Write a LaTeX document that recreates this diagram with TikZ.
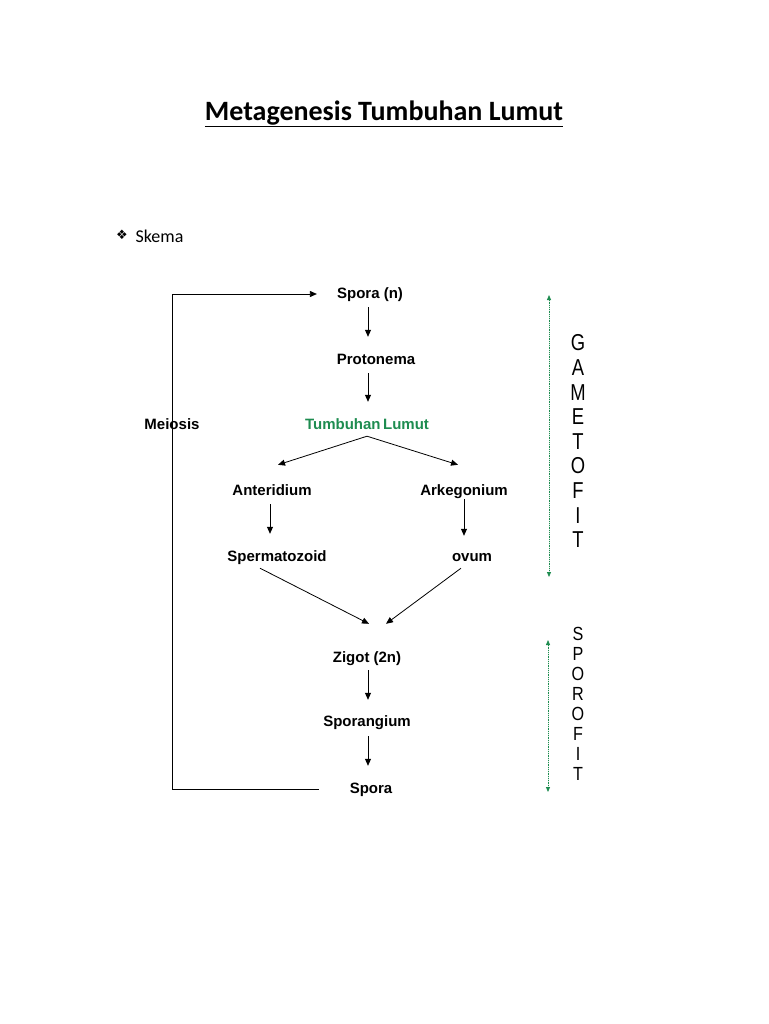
\documentclass[tikz,border=0pt]{standalone}
\usepackage{fontspec}
\setmainfont{Liberation Sans}
\newfontfamily\calfnt{Carlito}
\newfontfamily\djv{DejaVu Sans}
\usetikzlibrary{arrows.meta}
\definecolor{lgreen}{RGB}{30,140,80}
\begin{document}
\begin{tikzpicture}[x=1pt,y=-1pt,
  lbl/.style={font=\fontsize{15}{17}\selectfont\bfseries,inner sep=1pt,text height=11pt,text depth=3pt},
  arr/.style={-{Triangle[length=7pt,width=6pt]},line width=0.8pt},
  varr/.style={arr,shorten <=5pt,shorten >=15pt},
  gdot/.style={{Triangle[length=5pt,width=4pt]}-{Triangle[length=5pt,width=4pt]},densely dotted,line width=0.8pt,draw=lgreen,fill=lgreen}]
\useasboundingbox (0,0) rectangle (768,1024);
\node[font=\calfnt\fontsize{28}{30}\selectfont\bfseries] (title) at (384,114) {\underline{Metagenesis Tumbuhan Lumut}};
\node[font=\djv\fontsize{13}{14}\selectfont] (dia) at (122,235) {❖};
\node[font=\calfnt\fontsize{18}{20}\selectfont,anchor=west] (sk) at (132,236) {Skema};
\node[lbl] (s1) at (370,294) {Spora (n)};
\node[lbl] (pr) at (376,360) {Protonema};
\node[lbl,text=lgreen] (tl) at (367,425) {Tumbuhan\,Lumut};
\node[lbl] (an) at (272,491) {Anteridium};
\node[lbl] (ar) at (464,491) {Arkegonium};
\node[lbl] (sp) at (277,557) {Spermatozoid};
\node[lbl] (ov) at (472,557) {ovum};
\node[lbl] (zg) at (367,658) {Zigot (2n)};
\node[lbl] (sg) at (367,722) {Sporangium};
\node[lbl] (s2) at (371,789) {Spora};
\node[lbl] (me) at (172,425) {Meiosis};
\coordinate (c2) at (172,789);
\coordinate (c3) at (172,294);
\coordinate (g1) at (549,295);
\coordinate (g2) at (549,577);
\coordinate (h1) at (548,640);
\coordinate (h2) at (548,792);
\draw[arr,shorten <=30pt,shorten >=19pt] (s2.west) -- (c2) -- (c3) -- (s1.west);
\draw[varr] (s1.south -| 368,0) -- (pr.north -| 368,0);
\draw[varr] (pr.south -| 368,0) -- (tl.north -| 368,0);
\draw[arr] ([yshift=-3pt]tl.south) -- ([xshift=6pt,yshift=18pt]an.north);
\draw[arr] ([yshift=-3pt]tl.south) -- ([xshift=-6pt,yshift=18pt]ar.north);
\draw[varr] (an.south -| 270,0) -- (sp.north -| 270,0);
\draw[arr,shorten >=13pt] (ar.south -| 464,0) -- (ov.north -| 464,0);
\draw[arr] ([xshift=-17pt,yshift=-3pt]sp.south) -- ([xshift=2pt,yshift=26pt]zg.north);
\draw[arr] ([xshift=-11pt,yshift=-3pt]ov.south) -- ([xshift=19pt,yshift=26pt]zg.north);
\draw[varr,shorten <=4pt,shorten >=14pt] (zg.south -| 368,0) -- (sg.north -| 368,0);
\draw[varr,shorten <=6pt,shorten >=15pt] (sg.south -| 368,0) -- (s2.north -| 368,0);
\draw[gdot] (g1) -- (g2);
\draw[gdot] (h1) -- (h2);
\foreach \l [count=\i] in {G,A,M,E,T,O,F,I,T}
  \node[font=\fontsize{23}{24}\selectfont,xscale=0.8] (ga\i) at (578,343+\i*24.6-24.6) {\l};
\foreach \l [count=\i] in {S,P,O,R,O,F,I,T}
  \node[font=\fontsize{19}{20}\selectfont,xscale=0.85] (sp\i) at (578,634+\i*20-20) {\l};
\end{tikzpicture}
\end{document}
